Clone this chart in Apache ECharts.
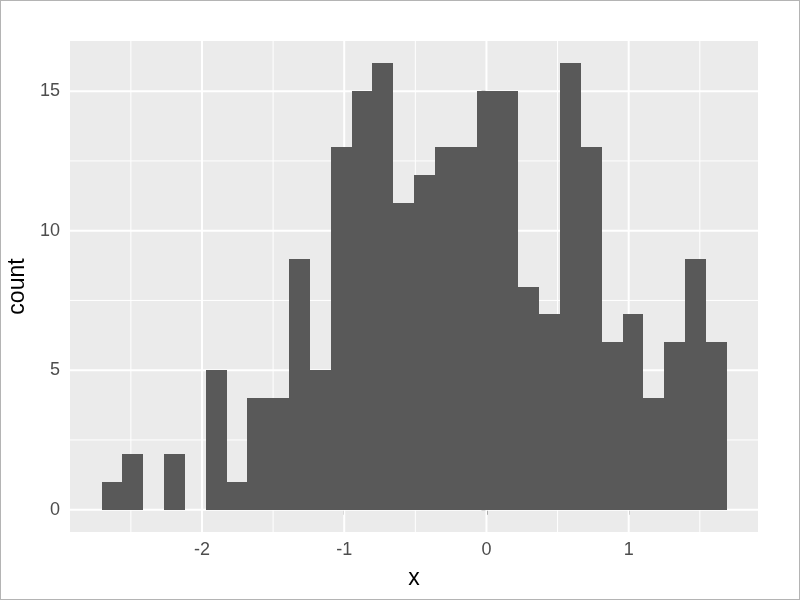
<!DOCTYPE html>
<html><head><meta charset="utf-8">
<script src="https://cdn.jsdelivr.net/npm/echarts@6/dist/echarts.min.js"></script>
<style>
html,body{margin:0;padding:0;background:#fff}
#wrap{position:relative;width:800px;height:600px}
#c{width:800px;height:600px}
#frame{position:absolute;left:0;top:0;width:800px;height:600px;box-sizing:border-box;border:1px solid #b4b4b4;pointer-events:none}
</style>
</head><body>
<div id="wrap"><div id="c"></div><div id="frame"></div></div>
<script>
// Histogram counts (30 bins)
const binCounts = [1,2,0,2,0,5,1,4,4,9,5,13,15,16,11,12,13,13,15,15,8,7,16,13,6,7,4,6,9,6];
const binStart = -2.706;
const binWidth = 0.1465;
const xTicks = [-2,-1,0,1];
const xMinor = [-2.5,-1.5,-0.5,0.5,1.5];
const yTicks = [0,5,10,15];
const yMinor = [2.5,7.5,12.5];

const bins = binCounts.map((c,i)=>[binStart+i*binWidth, binStart+(i+1)*binWidth, c]);
const gridData = [];
xTicks.forEach(v=>gridData.push([v,'x',2]));
xMinor.forEach(v=>gridData.push([v,'x',1]));
yTicks.forEach(v=>gridData.push([v,'y',2]));
yMinor.forEach(v=>gridData.push([v,'y',1]));

const chart = echarts.init(document.getElementById('c'));
chart.setOption({
  animation:false,
  backgroundColor:'#ffffff',
  grid:{left:70,right:42,top:41,bottom:68,show:true,backgroundColor:'#EBEBEB',borderWidth:0,
        containLabel:false,outerBoundsMode:'none'},
  xAxis:{type:'value',min:-2.928,max:1.909,
    name:'x',nameLocation:'middle',nameGap:35,
    nameTextStyle:{color:'#000',fontSize:23,fontFamily:'Liberation Sans'},
    axisLine:{show:false},
    axisTick:{show:true,length:5,customValues:xTicks,lineStyle:{color:'#333333',width:1.5}},
    axisLabel:{customValues:xTicks,margin:9,color:'#4D4D4D',fontSize:18,fontFamily:'Liberation Sans'},
    splitLine:{show:false}},
  yAxis:{type:'value',min:-0.8,max:16.8,
    name:'count',nameLocation:'middle',nameGap:34,nameRotate:90,
    nameTextStyle:{color:'#000',fontSize:23,fontFamily:'Liberation Sans'},
    axisLine:{show:false},
    axisTick:{show:true,length:5,customValues:yTicks,lineStyle:{color:'#333333',width:1.5}},
    axisLabel:{customValues:yTicks,margin:10,color:'#4D4D4D',fontSize:18,fontFamily:'Liberation Sans'},
    splitLine:{show:false}},
  series:[
    {type:'custom',silent:true,z:1,data:gridData,
     renderItem:function(params,api){
       const cs=params.coordSys;
       const v=api.value(0), dir=gridData[params.dataIndex][1], w=api.value(2);
       if(dir==='x'){
         const p=api.coord([v,0]);
         return {type:'line',shape:{x1:p[0],y1:cs.y,x2:p[0],y2:cs.y+cs.height},style:{stroke:'#ffffff',lineWidth:w}};
       } else {
         const p=api.coord([0,v]);
         return {type:'line',shape:{x1:cs.x,y1:p[1],x2:cs.x+cs.width,y2:p[1]},style:{stroke:'#ffffff',lineWidth:w}};
       }
     }},
    {type:'custom',silent:true,z:2,data:bins,
     renderItem:function(params,api){
       const x0=api.value(0), x1=api.value(1), y=api.value(2);
       if(y<=0) return null;
       const p0=api.coord([x0,y]), p1=api.coord([x1,0]);
       const L=Math.round(p0[0]), R=Math.round(p1[0]), T=Math.round(p0[1]), B=Math.round(p1[1]);
       return {type:'rect',shape:{x:L,y:T,width:R-L,height:B-T},
               style:{fill:'#595959'}};
     }}
  ]
});
</script>
</body></html>
